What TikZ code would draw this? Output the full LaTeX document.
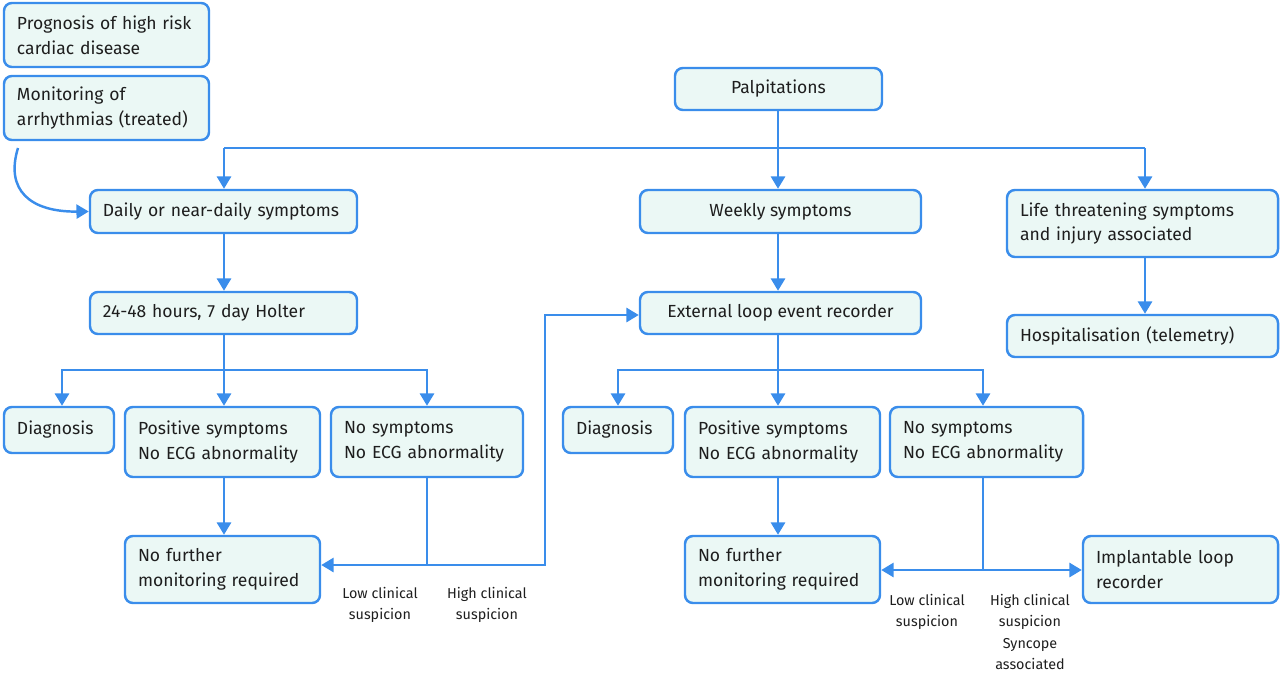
\documentclass[tikz,border=0pt]{standalone}
\usepackage{fontspec}
\setmainfont{Fira Sans}[Scale=0.95]
\usetikzlibrary{arrows.meta}
\definecolor{bl}{HTML}{3A8DEB}
\definecolor{bf}{HTML}{EBF8F5}
\definecolor{tx}{HTML}{1E1E1E}
\tikzset{
  box/.style={draw=bl,fill=bf,line width=1.4pt,rounded corners=4.5pt,inner xsep=0pt,inner ysep=0pt,
     font=\fontsize{10.5}{14}\selectfont,text=tx,align=left},
  ar/.style={draw=bl,line width=1.4pt,-{Triangle[length=7pt,width=8pt]}},
  ln/.style={draw=bl,line width=1.4pt},
  lab/.style={font=\fontsize{8.6}{12}\selectfont,text=tx,align=center}
}
\newcommand{\bx}[6]{% name, x1,y1,x2,y2,text
  \pgfmathsetmacro{\bw}{(#4-#2)*0.02}%
  \pgfmathsetmacro{\bh}{(#5-#3)*0.02}%
  \pgfmathsetmacro{\tw}{(#4-#2-26)*0.02}%
  \pgfmathsetmacro{\cx}{(#2+#4)/2}%
  \pgfmathsetmacro{\cy}{(#3+#5)/2}%
  \node[box,minimum width=\bw cm,minimum height=\bh cm,text width=\tw cm]
    (#1) at (\cx,\cy) {#6};}
\newcommand{\cbx}[6]{%
  \pgfmathsetmacro{\bw}{(#4-#2)*0.02}%
  \pgfmathsetmacro{\bh}{(#5-#3)*0.02}%
  \pgfmathsetmacro{\cx}{(#2+#4)/2}%
  \pgfmathsetmacro{\cy}{(#3+#5)/2}%
  \node[box,minimum width=\bw cm,minimum height=\bh cm,align=center]
    (#1) at (\cx,\cy) {#6};}
\begin{document}
\begin{tikzpicture}[x=0.02cm,y=-0.02cm]
\useasboundingbox (0,0) rectangle (1280,673);
\bx{prog}{4}{3}{209}{67}{Prognosis of high risk\\cardiac disease}
\bx{mon}{4}{76}{209}{140}{Monitoring of\\arrhythmias (treated)}
\cbx{pal}{675}{68}{882}{110}{Palpitations}
\bx{daily}{90}{190}{357}{233}{Daily or near-daily symptoms}
\cbx{week}{640}{190}{921}{233}{Weekly symptoms}
\bx{life}{1007}{190}{1278}{257}{Life threatening symptoms\\and injury associated}
\bx{holt}{90}{292}{357}{334}{24-48 hours, 7 day Holter}
\cbx{ext}{640}{292}{921}{334}{External loop event recorder}
\bx{hosp}{1007}{315}{1278}{357}{Hospitalisation (telemetry)}
\bx{diagL}{4}{407}{114}{453}{Diagnosis}
\bx{posL}{125}{407}{320}{477}{Positive symptoms\\No ECG abnormality}
\bx{noL}{331}{407}{523}{477}{No symptoms\\No ECG abnormality}
\bx{diagR}{563}{407}{673}{453}{Diagnosis}
\bx{posR}{685}{407}{880}{477}{Positive symptoms\\No ECG abnormality}
\bx{noR}{890}{407}{1083}{477}{No symptoms\\No ECG abnormality}
\bx{nfL}{125}{536}{320}{603}{No further\\monitoring required}
\bx{nfR}{685}{536}{880}{603}{No further\\monitoring required}
\bx{impl}{1083}{536}{1278}{603}{Implantable loop\\recorder}
% top branch
\draw[ln] (224,148) -- (1145,148);
\draw[ar] (pal.south -| 778,0) -- (week.north -| 778,0);
\draw[ar] (224,148) -- (daily.north -| 224,0);
\draw[ar] (1145,148) -- (life.north -| 1145,0);
\draw[ar] (daily.south -| 224,0) -- (holt.north -| 224,0);
\draw[ar] (week.south -| 778,0) -- (ext.north -| 778,0);
\draw[ar] (life.south -| 1145,0) -- (hosp.north -| 1145,0);
% left branch
\draw[ln] (holt.south -| 224,0) -- (224,370);
\draw[ln] (62,375) |- (427,370) -- (427,375);
\draw[ar] (62,370) -- (diagL.north -| 62,0);
\draw[ar] (224,370) -- (posL.north -| 224,0);
\draw[ar] (427,370) -- (noL.north -| 427,0);
\draw[ar] (posL.south -| 224,0) -- (nfL.north -| 224,0);
\coordinate (jL) at (427,565);
\draw[ln] (noL.south -| 427,0) -- (jL);
\draw[ar] (jL) -- (nfL.east |- jL);
\draw[ar] (jL) -- (545,565) -- (545,315) -- (ext.west |- 0,315);
\node[lab] (lowL) at (380,605) {Low clinical\\suspicion};
\node[lab] (highL) at (487,605) {High clinical\\suspicion};
% right branch
\draw[ln] (ext.south -| 778,0) -- (778,370);
\draw[ln] (618,375) |- (983,370) -- (983,375);
\draw[ar] (618,370) -- (diagR.north -| 618,0);
\draw[ar] (778,370) -- (posR.north -| 778,0);
\draw[ar] (983,370) -- (noR.north -| 983,0);
\draw[ar] (posR.south -| 778,0) -- (nfR.north -| 778,0);
\coordinate (jR) at (983,570);
\draw[ln] (noR.south -| 983,0) -- (jR);
\draw[ar] (jR) -- (nfR.east |- jR);
\draw[ar] (jR) -- (impl.west |- jR);
\node[lab] (lowR) at (927,612) {Low clinical\\suspicion};
\node[lab] (highR) at (1030,632) {High clinical\\suspicion\\Syncope\\associated};
% curved
\coordinate (cs) at (18,148);
\draw[ar] (cs) .. controls (5,190) and (30,212) .. (daily.west);
\end{tikzpicture}
\end{document}
